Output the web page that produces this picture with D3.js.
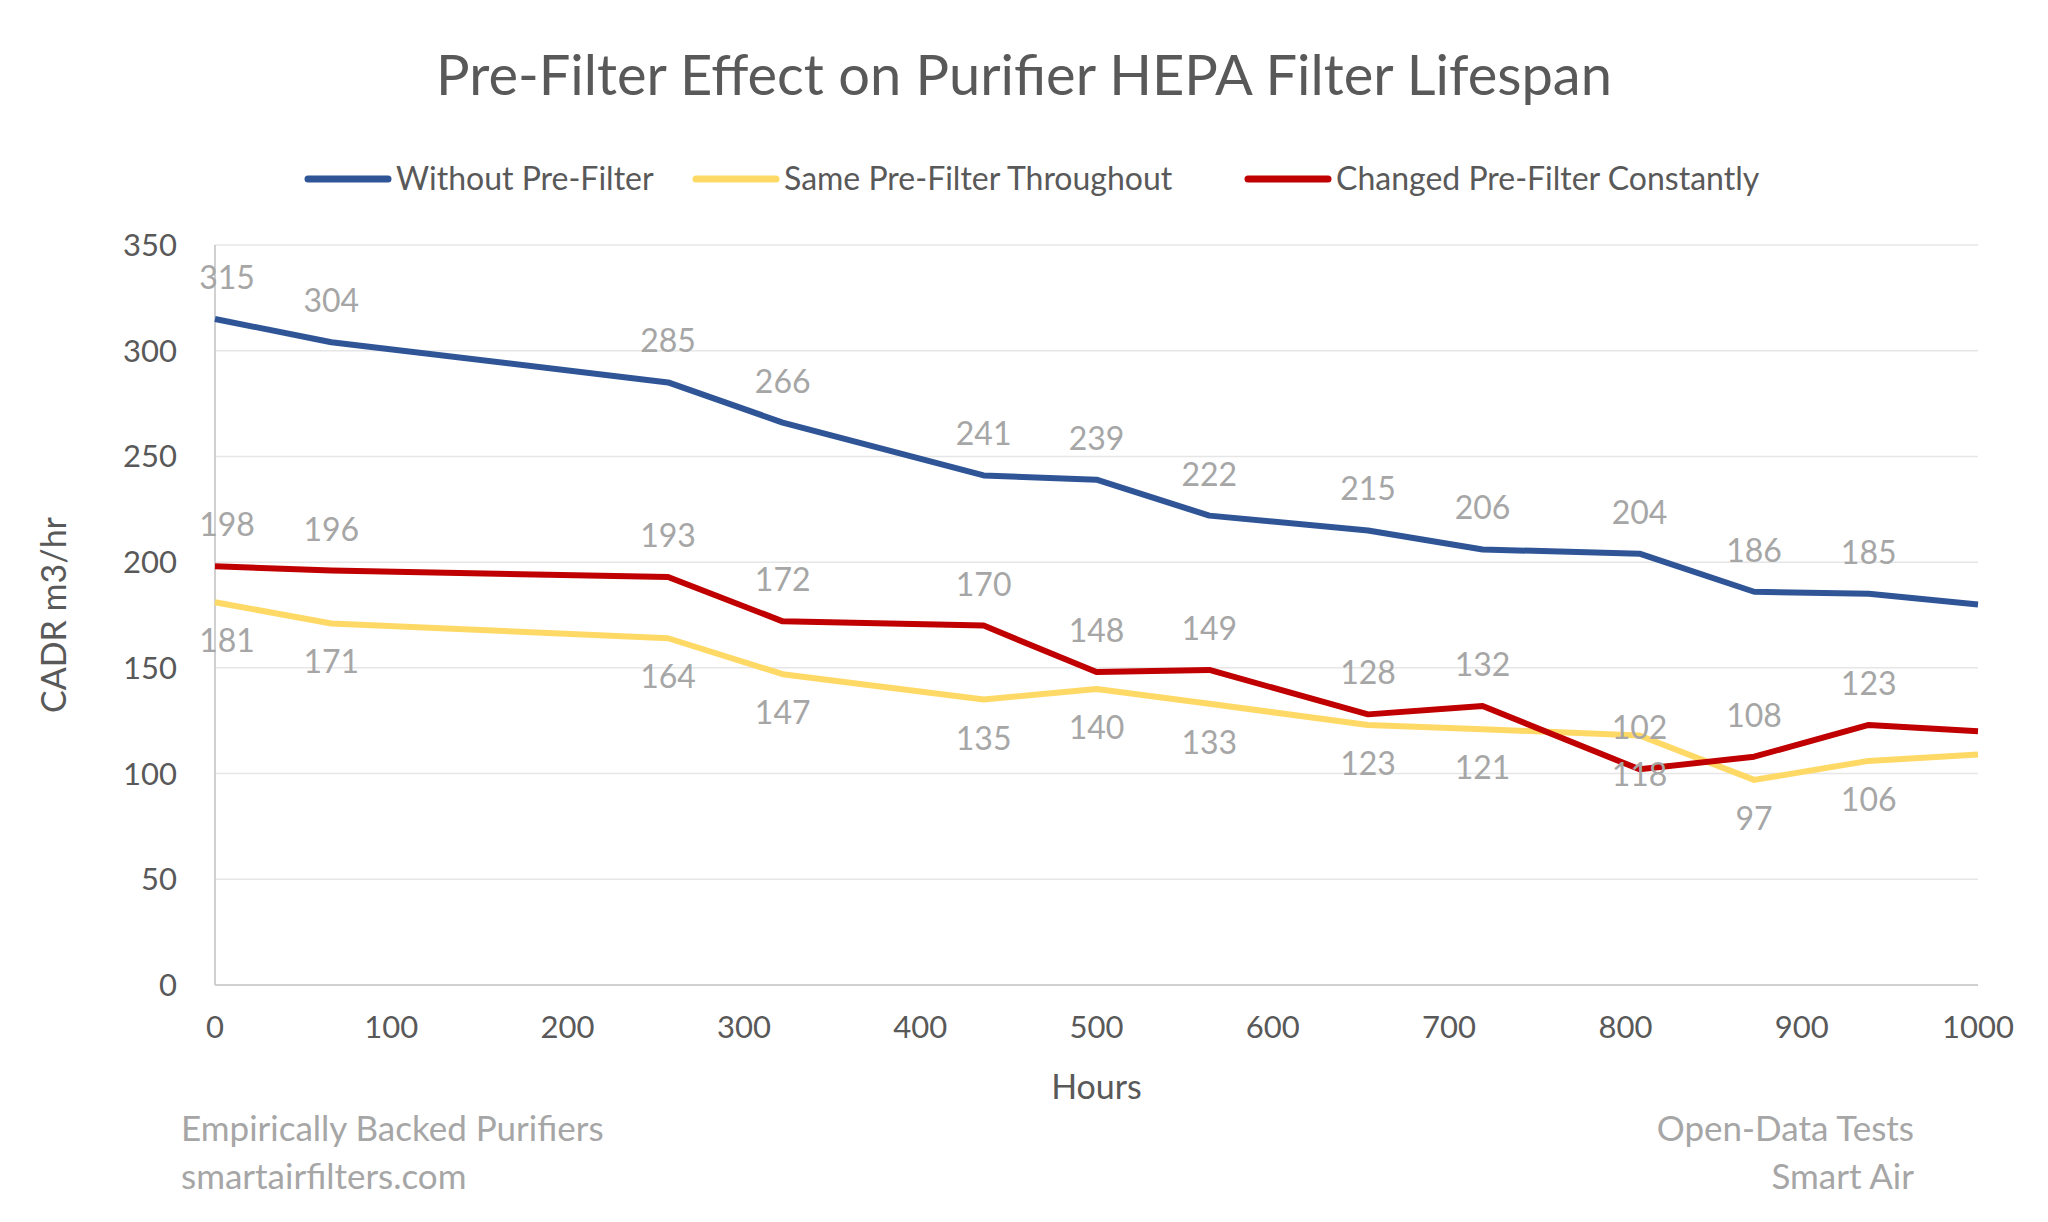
<!DOCTYPE html>
<html>
<head>
<script src="https://d3js.org/d3.v7.min.js"></script>
<style>
  body { margin: 0; background: #fff; }
  text { font-family: Lato, "Open Sans", sans-serif; }
</style>
</head>
<body>
<svg id="chart" width="2048" height="1222"></svg>
<script>
const hours = [0, 66, 257, 322, 436, 500, 564, 654, 719, 808, 873, 938, 1000];
const withoutPre = [315, 304, 285, 266, 241, 239, 222, 215, 206, 204, 186, 185, 180];
const samePre = [181, 171, 164, 147, 135, 140, 133, 123, 121, 118, 97, 106, 109];
const changedPre = [198, 196, 193, 172, 170, 148, 149, 128, 132, 102, 108, 123, 120];
const seriesNames = ["Without Pre-Filter", "Same Pre-Filter Throughout", "Changed Pre-Filter Constantly"];
const xTicks = [0, 100, 200, 300, 400, 500, 600, 700, 800, 900, 1000];
const yTicks = [0, 50, 100, 150, 200, 250, 300, 350];

const colors = ["#2f5597", "#ffd966", "#c00000"];
const series = [withoutPre, samePre, changedPre];
const labelDy = [-30, 50, -30]; // above / below line

const svg = d3.select("#chart");
const x = d3.scaleLinear().domain([0, 1000]).range([215, 1978]);
const y = d3.scaleLinear().domain([0, 350]).range([985, 245]);

// gridlines
svg.append("g").selectAll("line").data(yTicks.slice(1)).join("line")
  .attr("x1", x(0)).attr("x2", x(1000))
  .attr("y1", d => y(d)).attr("y2", d => y(d))
  .attr("stroke", "#e6e6e6").attr("stroke-width", 1.5);

// axes lines
svg.append("line").attr("x1", x(0)).attr("x2", x(1000)).attr("y1", y(0)).attr("y2", y(0))
  .attr("stroke", "#d0d0d0").attr("stroke-width", 2);
svg.append("line").attr("x1", x(0)).attr("x2", x(0)).attr("y1", y(0)).attr("y2", y(350))
  .attr("stroke", "#d0d0d0").attr("stroke-width", 2);

// tick labels
svg.append("g").selectAll("text").data(yTicks).join("text")
  .attr("x", x(0) - 38).attr("y", d => y(d) + 11)
  .attr("text-anchor", "end").attr("font-size", 31).attr("fill", "#595959")
  .text(d => d);
svg.append("g").selectAll("text").data(xTicks).join("text")
  .attr("x", d => x(d)).attr("y", y(0) + 53)
  .attr("text-anchor", "middle").attr("font-size", 31).attr("fill", "#595959")
  .text(d => d);

// axis titles
svg.append("text").attr("x", x(500)).attr("y", 1099).attr("text-anchor", "middle")
  .attr("font-size", 34).attr("fill", "#595959").text("Hours");
svg.append("text").attr("transform", `translate(66,${y(175)}) rotate(-90)`)
  .attr("text-anchor", "middle").attr("font-size", 34).attr("fill", "#595959").text("CADR m3/hr");

// title
svg.append("text").attr("x", 1024).attr("y", 95).attr("text-anchor", "middle")
  .attr("font-size", 56).attr("fill", "#595959").text("Pre-Filter Effect on Purifier HEPA Filter Lifespan");

// legend
const legendX = [308, 696, 1248];
seriesNames.forEach((name, i) => {
  const g = svg.append("g").attr("transform", `translate(${legendX[i]},179)`);
  g.append("line").attr("x1", 0).attr("x2", 80).attr("y1", 0).attr("y2", 0)
    .attr("stroke", colors[i]).attr("stroke-width", 7).attr("stroke-linecap", "round");
  g.append("text").attr("x", 88).attr("y", 11).attr("font-size", 32).attr("fill", "#595959").text(name);
});

// lines
const line = d3.line().x((d, i) => x(hours[i])).y(d => y(d));
series.forEach((vals, i) => {
  svg.append("path").datum(vals).attr("d", line)
    .attr("fill", "none").attr("stroke", colors[i]).attr("stroke-width", 6)
    .attr("stroke-linejoin", "round");
});

// data labels (last point not labelled)
series.forEach((vals, i) => {
  svg.append("g").selectAll("text").data(vals.slice(0, -1)).join("text")
    .attr("x", (d, j) => x(hours[j]) + (j === 0 ? 12 : 0))
    .attr("y", (d, j) => y(d) + labelDy[i])
    .attr("text-anchor", "middle").attr("font-size", 32).attr("fill", "#a6a6a6")
    .text(d => d);
});

// footers
svg.append("text").attr("x", 181).attr("y", 1141).attr("font-size", 35).attr("fill", "#a6a6a6").text("Empirically Backed Purifiers");
svg.append("text").attr("x", 181).attr("y", 1189).attr("font-size", 35).attr("fill", "#a6a6a6").text("smartairfilters.com");
svg.append("text").attr("x", 1914).attr("y", 1141).attr("text-anchor", "end").attr("font-size", 35).attr("fill", "#a6a6a6").text("Open-Data Tests");
svg.append("text").attr("x", 1914).attr("y", 1189).attr("text-anchor", "end").attr("font-size", 35).attr("fill", "#a6a6a6").text("Smart Air");
</script>
</body>
</html>
